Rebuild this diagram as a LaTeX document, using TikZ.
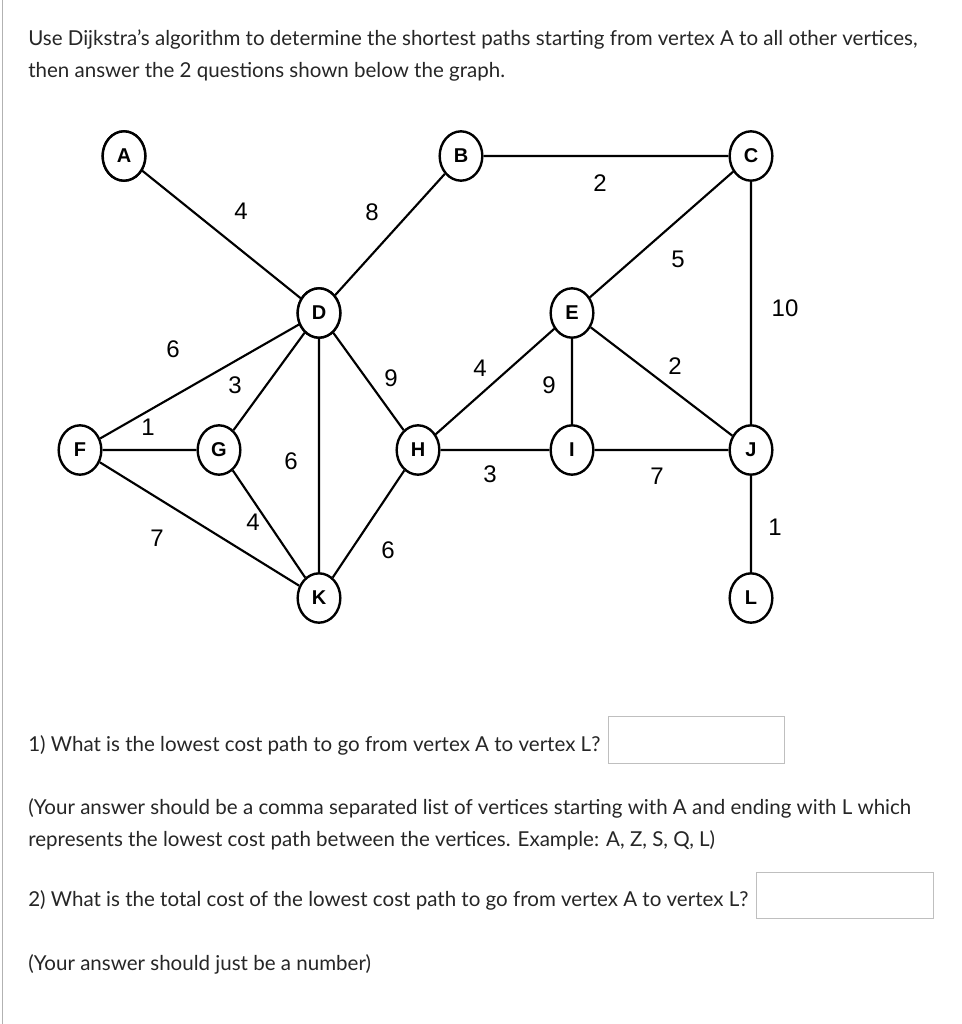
\documentclass[tikz,border=0pt]{standalone}
\usepackage{fontspec}
\setmainfont{Lato}
\newfontfamily\grf{Liberation Sans}
\usetikzlibrary{shapes.geometric}
\begin{document}
\begin{tikzpicture}[x=0.75pt,y=-0.75pt,
  vtx/.style={draw,line width=1.8pt,ellipse,fill=white,minimum width=32pt,minimum height=37pt,inner sep=0pt,font=\grf\bfseries\fontsize{15}{15}\selectfont},
  edge/.style={line width=1.6pt},
  wt/.style={font=\grf\fontsize{18}{18}\selectfont},
  txt/.style={anchor=base west,inner sep=0pt,font=\fontsize{15.4}{18}\selectfont,text=black!85},
  ansbox/.style={draw=black!25}]
\useasboundingbox (0,0) rectangle (961,1024);
\fill[white] (0,0) rectangle (961,1024);
\draw[black!30] (2,0) -- (2,1024);
\node[txt] (t1) at (28,46) {Use Dijkstra's algorithm to determine the shortest paths starting from vertex A to all other vertices,};
\node[txt] (t2) at (28,78) {then answer the 2 questions shown below the graph.};
\draw[edge] (124,156) coordinate (a0) -- (319,313);
\node (A) [vtx] at (124,156) {A};
\node (B) [vtx] at (461,156) {B};
\node (C) [vtx] at (751,156) {C};
\node (D) [vtx] at (319,313) {D};
\node (E) [vtx] at (572,313) {E};
\node (F) [vtx] at (80,450) {F};
\node (G) [vtx] at (219,450) {G};
\node (H) [vtx] at (418,450) {H};
\node (I) [vtx] at (572,450) {I};
\node (J) [vtx] at (751,450) {J};
\node (K) [vtx] at (319,598) {K};
\node (L) [vtx] at (751,598) {L};
\draw[edge] (B)--(D) (B)--(C) (C)--(E) (C)--(J) (D)--(G) (D)--(K) (D)--(H)
  (H)--(E) (E)--(I) (E)--(J) (F)--(G) (F)--(D) (F)--(K) (G)--(K) (H)--(K) (H)--(I) (I)--(J) (J)--(L);
\node[vtx] (A2) at (124,156) {A};
\node[vtx] (D2) at (319,313) {D};
\node[wt] (w1) at (241,211) {4};
\node[wt] (w2) at (372,212) {8};
\node[wt] (w3) at (600,183) {2};
\node[wt] (w4) at (678,259) {5};
\node[wt] (w5) at (785,308) {10};
\node[wt] (w6) at (173,349) {6};
\node[wt] (w7) at (235,385) {3};
\node[wt] (w8) at (391,378) {9};
\node[wt] (w9) at (480,368) {4};
\node[wt] (w10) at (549,385) {9};
\node[wt] (w11) at (675,366) {2};
\node[wt] (w12) at (148,427) {1};
\node[wt] (w13) at (291,461) {6};
\node[wt] (w14) at (490,474) {3};
\node[wt] (w15) at (657,476) {7};
\node[wt] (w16) at (157,538) {7};
\node[wt] (w17) at (253,522) {4};
\node[wt] (w18) at (388,550) {6};
\node[wt] (w19) at (775,527) {1};
\node[txt] (q1) at (28,751) {1) What is the lowest cost path to go from vertex A to vertex L?};
\draw[ansbox] (608,716) rectangle (784,763);
\node[txt] (p1) at (28,814) {(Your answer should be a comma separated list of vertices starting with A and ending with L which};
\node[txt] (p2) at (28,846) {represents the lowest cost path between the vertices. Example: A, Z, S, Q, L)};
\node[txt] (q2) at (28,906) {2) What is the total cost of the lowest cost path to go from vertex A to vertex L?};
\draw[ansbox] (756,872) rectangle (933,918);
\node[txt] (p3) at (28,970) {(Your answer should just be a number)};
\end{tikzpicture}
\end{document}
